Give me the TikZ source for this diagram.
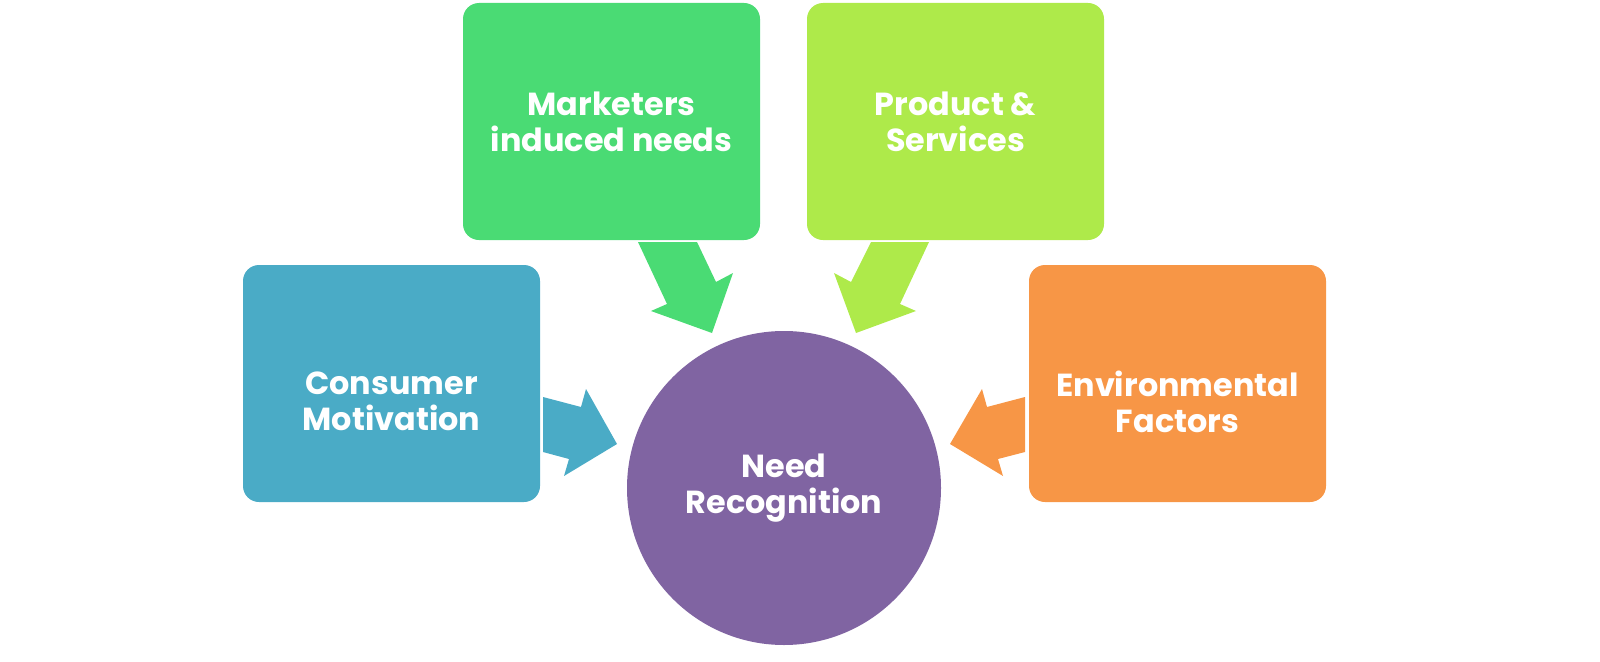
\documentclass[tikz,border=0pt]{standalone}
\usepackage{fontspec}
\setmainfont{Poppins}
\definecolor{cg}{HTML}{4ADB74}\definecolor{cl}{HTML}{AEEA4A}
\definecolor{cb}{HTML}{4AABC6}\definecolor{co}{HTML}{F79646}\definecolor{cp}{HTML}{8064A2}
\begin{document}
\begin{tikzpicture}[x=1bp,y=-1bp,
 box/.style={rounded corners=16bp,minimum width=297bp,minimum height=237bp,draw=none,anchor=north west,inner sep=0pt,outer sep=0pt},
 lbl/.style={text=white,font=\fontsize{32}{36}\selectfont\bfseries,align=center},
 arr/.style={draw=none}]
\useasboundingbox (0,0) rectangle (1600,662);
\node[box,fill=cg] (m) at (463,3) {};
\node[box,fill=cl] (p) at (807,3) {};
\node[box,fill=cb] (c) at (243,265) {};
\node[box,fill=co] (e) at (1029,265) {};
\node[circle,fill=cp,minimum size=314bp,inner sep=0pt,outer sep=0pt] (n) at (784,488) {};
\node[lbl] at (m.center) {Marketers\\induced needs};
\node[lbl] at ([yshift=-18bp]c.center) {Consumer\\Motivation};
\node[lbl] at (p.center) {Product \&\\Services};
\node[lbl] at ([yshift=-18bp]e.center) {Environmental\\Factors};
\node[lbl] at (n.center) {Need\\Recognition};
\fill[cg] (638,242) -- (697,242) -- (716,282) -- (733,273) -- (712,333) -- (651,311) -- (667,304) -- cycle;
\fill[cl] (929,242) -- (871,242) -- (851,282) -- (834,273) -- (856,333) -- (916,311) -- (900,304) -- cycle;
\fill[cb] (543,397) -- (581,407) -- (586,389) -- (617,444) -- (564,476) -- (569,459) -- (543,452) -- cycle;
\fill[co] (1025,397) -- (987,407) -- (982,389) -- (950,444) -- (1003,476) -- (998,459) -- (1025,452) -- cycle;
\end{tikzpicture}
\end{document}
